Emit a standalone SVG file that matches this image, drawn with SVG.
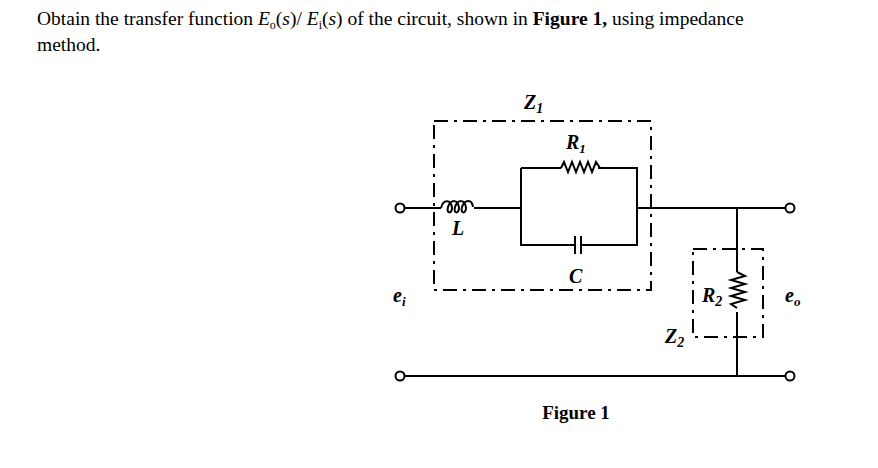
<svg xmlns="http://www.w3.org/2000/svg" width="878" height="468" viewBox="0 0 878 468">
<style>
.w{stroke:#000;stroke-width:2;fill:none}
.d{stroke:#000;stroke-width:2;fill:none;stroke-dasharray:14 6 3 6}
.t{font-family:"Liberation Serif",serif;font-size:19.5px}
.l{font-family:"Liberation Serif",serif;font-size:20px;font-style:italic;font-weight:bold}
.term{fill:#fff;stroke:#000;stroke-width:2}
</style>
<rect width="878" height="468" fill="#fff"/>
<text class="t" x="37" y="25">Obtain the transfer function <tspan font-style="italic">E</tspan><tspan font-size="12" dy="4">o</tspan><tspan dy="-4">(</tspan><tspan font-style="italic">s</tspan>)/ <tspan font-style="italic">E</tspan><tspan font-size="12" dy="4">i</tspan><tspan dy="-4">(</tspan><tspan font-style="italic">s</tspan>) of the circuit, shown in <tspan font-weight="bold">Figure 1,</tspan> using impedance</text>
<text class="t" x="37" y="51">method.</text>
<g id="connectors">
<path class="w" d="M405 208H441M474 208H521M521 168V245H570M586 245H637V168H598M561 168H521M637 208H785M405 376H785M737 208V272M737 312V376"/>
</g>
<g id="L"><path class="w" d="M441 208c2-9 10-9 11 0c0 6-6 6-4-1c3-8 10-8 11 1c0 6-6 6-4-1c3-8 10-8 11 1c0 6-6 6-4-1c3-8 10-8 11 0"/><text class="l" x="452" y="235">L</text></g>
<g id="R1"><path class="w" d="M561 168l3-6l4 10l4-10l4 10l4-10l4 10l4-10l4 10l4-10l4 6"/><text class="l" x="566" y="149">R<tspan font-size="13" dy="4">1</tspan></text></g>
<g id="C"><path class="w" d="M575 236V254M581 236V254M570 245H575M581 245H586"/><text class="l" x="569" y="283">C</text></g>
<g id="Z1box"><rect class="d" x="434" y="121" width="217" height="169"/><text class="l" x="524" y="109">Z<tspan font-size="14" dy="4">1</tspan></text></g>
<g id="R2"><path class="w" d="M737 272l8 4l-14 4l14 4l-14 4l14 4l-14 4l14 4l-14 4l6 4"/><text class="l" x="702" y="302">R<tspan font-size="14" dy="4">2</tspan></text></g>
<g id="Z2box"><rect class="d" x="693" y="249" width="70" height="88"/><rect x="675" y="328" width="17" height="22" fill="#fff"/><text class="l" x="665" y="343">Z<tspan font-size="14" dy="4">2</tspan></text></g>
<g id="terminals">
<circle class="term" cx="400" cy="208" r="4.5"/><circle class="term" cx="790" cy="208" r="4.5"/>
<circle class="term" cx="400" cy="376" r="4.5"/><circle class="term" cx="790" cy="376" r="4.5"/>
</g>
<text class="l" x="393" y="302">e<tspan font-size="13" dy="4">i</tspan></text>
<text class="l" x="785" y="302">e<tspan font-size="13" dy="4">o</tspan></text>
<text x="576" y="419" text-anchor="middle" font-family="Liberation Serif,serif" font-size="19" font-weight="bold">Figure 1</text>
</svg>
